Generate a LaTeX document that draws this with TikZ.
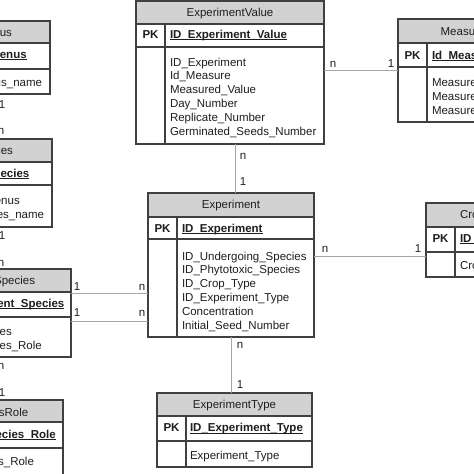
\documentclass[tikz,border=0pt]{standalone}
\usepackage{fontspec}
\setmainfont{Liberation Sans}
\usetikzlibrary{fit}
\definecolor{hdr}{HTML}{D2D2D2}
\definecolor{frm}{HTML}{404040}
\definecolor{cnx}{HTML}{A6A6A6}
\definecolor{txt}{HTML}{1E1E1E}
\newcommand{\keyul}[1]{\setbox0\hbox{#1}\rlap{\rule[-2.2pt]{\wd0}{0.9pt}}\box0}
\tikzset{
  frame/.style={draw=frm, line width=1.2pt},
  lbl/.style={font=\fontsize{11.5}{13.8}\selectfont, text=txt, inner sep=0pt, outer sep=0pt},
  hdrtext/.style={lbl, anchor=base},
  pktext/.style={lbl, font=\fontsize{11.5}{13.8}\selectfont\bfseries, anchor=base},
  keytext/.style={lbl, font=\fontsize{11.5}{13.8}\selectfont\bfseries, anchor=base west},
  attrtext/.style={lbl, anchor=base west},
  card/.style={lbl, anchor=base},
  conn/.style={draw=cnx, line width=0.9pt},
}
% name, left, top, right, header bottom, pk bottom, bottom, divider
\newcommand{\erbox}[8]{%
  \fill[hdr] (#2,#3) rectangle (#4,#5);
  \draw[frame] (#2,#5) -- (#4,#5) (#2,#6) -- (#4,#6) (#8,#5) -- (#8,#7);
  \draw[frame] (#2,#3) rectangle (#4,#7);
  \node[inner sep=0pt, outer sep=0pt, fit={(#2,#3) (#4,#7)}] (#1) {};
}
\begin{document}
\begin{tikzpicture}[x=1pt,y=-1pt]
\useasboundingbox (0,0) rectangle (474,474);
\clip (0,0) rectangle (474,474);

% ExperimentValue
\erbox{ev}{136}{1}{324}{24}{47}{144}{165}
\node[hdrtext] (ev-h) at (230,16) {ExperimentValue};
\node[pktext] (ev-pk) at (150.5,38) {PK};
\node[keytext] (ev-k) at (170,38) {\keyul{ID\_Experiment\_Value}};
\node[attrtext] (ev-a1) at (170,66) {ID\_Experiment};
\node[attrtext] (ev-a2) at (170,79.8) {Id\_Measure};
\node[attrtext] (ev-a3) at (170,93.6) {Measured\_Value};
\node[attrtext] (ev-a4) at (170,107.4) {Day\_Number};
\node[attrtext] (ev-a5) at (170,121.2) {Replicate\_Number};
\node[attrtext] (ev-a6) at (170,135) {Germinated\_Seeds\_Number};

% Measure
\erbox{meas}{398}{19}{528}{43}{67}{122}{427}
\node[hdrtext] (meas-h) at (463,35) {Measure};
\node[pktext] (meas-pk) at (412.5,59) {PK};
\node[keytext] (meas-k) at (432,59) {\keyul{Id\_Measure}};
\node[attrtext] (meas-a1) at (432,86) {Measure\_Name};
\node[attrtext] (meas-a2) at (432,100) {Measure\_Unit};
\node[attrtext] (meas-a3) at (432,114) {Measure\_Description};

% Experiment
\erbox{exp}{148}{193}{314}{217}{239}{337}{177}
\node[hdrtext] (exp-h) at (231,208) {Experiment};
\node[pktext] (exp-pk) at (162.5,232) {PK};
\node[keytext] (exp-k) at (182,232) {\keyul{ID\_Experiment}};
\node[attrtext] (exp-a1) at (182,260) {ID\_Undergoing\_Species};
\node[attrtext] (exp-a2) at (182,273.8) {ID\_Phytotoxic\_Species};
\node[attrtext] (exp-a3) at (182,287.6) {ID\_Crop\_Type};
\node[attrtext] (exp-a4) at (182,301.4) {ID\_Experiment\_Type};
\node[attrtext] (exp-a5) at (182,315.2) {Concentration};
\node[attrtext] (exp-a6) at (182,329) {Initial\_Seed\_Number};

% ExperimentType
\erbox{et}{157}{393}{312}{416}{441}{467}{186}
\node[hdrtext] (et-h) at (234.5,408) {ExperimentType};
\node[pktext] (et-pk) at (171.5,431.5) {PK};
\node[keytext] (et-k) at (190,431.5) {\keyul{ID\_Experiment\_Type}};
\node[attrtext] (et-a1) at (190,459.5) {Experiment\_Type};

% CropType
\erbox{crop}{426}{203}{544}{227}{252}{277}{455}
\node[hdrtext] (crop-h) at (485,218) {CropType};
\node[pktext] (crop-pk) at (440.5,242) {PK};
\node[keytext] (crop-k) at (460,242) {\keyul{ID\_Crop\_Type}};
\node[attrtext] (crop-a1) at (460,269) {Crop\_Type};

% Genus
\erbox{genus}{-60}{21}{50}{43}{69}{94}{-32}
\node[hdrtext] (genus-h) at (-5,36) {Genus};
\node[pktext] (genus-pk) at (-46,58) {PK};
\node[keytext] (genus-k) at (-27,58) {\keyul{ID\_Genus}};
\node[attrtext] (genus-a1) at (-27,86) {Genus\_name};

% Species
\erbox{species}{-67}{139}{52}{162}{185}{227}{-38}
\node[hdrtext] (species-h) at (-7.5,154) {Species};
\node[pktext] (species-pk) at (-52.5,177) {PK};
\node[keytext] (species-k) at (-32,177) {\keyul{ID\_Species}};
\node[attrtext] (species-a1) at (-32,204) {ID\_Genus};
\node[attrtext] (species-a2) at (-32,218) {Species\_name};

% ExperimentSpecies
\erbox{es}{-100}{269}{71}{292}{317}{357}{-71}
\node[hdrtext] (es-h) at (-14.5,284) {ExperimentSpecies};
\node[pktext] (es-pk) at (-85.5,307) {PK};
\node[keytext] (es-k) at (-66,307) {\keyul{ID\_Experiment\_Species}};
\node[attrtext] (es-a1) at (-47,335) {ID\_Species};
\node[attrtext] (es-a2) at (-47,349) {ID\_Species\_Role};

% SpeciesRole
\erbox{sr}{-71}{400}{63}{422}{448}{485}{-42}
\node[hdrtext] (sr-h) at (-4,416) {SpeciesRole};
\node[pktext] (sr-pk) at (-56.5,438) {PK};
\node[keytext] (sr-k) at (-37,438) {\keyul{ID\_Species\_Role}};
\node[attrtext] (sr-a1) at (-37,465) {Species\_Role};

% connectors
\draw[conn] (ev.east |- 0,70) -- (meas.west |- 0,70);
\draw[conn] (ev.south -| 235,0) -- (exp.north -| 235,0);
\draw[conn] (exp.east |- 0,256) -- (crop.west |- 0,256);
\draw[conn] (exp.south -| 231,0) -- (et.north -| 231,0);
\draw[conn] (es.east |- 0,293) -- (exp.west |- 0,293);
\draw[conn] (es.east |- 0,321) -- (exp.west |- 0,321);
\draw[conn] (genus.south -| -8,0) -- (species.north -| -8,0);
\draw[conn] (species.south -| -8,0) -- (es.north -| -8,0);
\draw[conn] (es.south -| -8,0) -- (sr.north -| -8,0);

% cardinalities
\node[card] (c1) at (333,67) {n};
\node[card] (c2) at (391,67) {1};
\node[card] (c3) at (243,159) {n};
\node[card] (c4) at (243,185) {1};
\node[card] (c5) at (325,252) {n};
\node[card] (c6) at (418,252) {1};
\node[card] (c7) at (240,348) {n};
\node[card] (c8) at (240,388) {1};
\node[card] (c9) at (77,290) {1};
\node[card] (c10) at (142,290) {n};
\node[card] (c11) at (77,316) {1};
\node[card] (c12) at (142,316) {n};
\node[card] (c13) at (2,108) {1};
\node[card] (c14) at (1,134) {n};
\node[card] (c15) at (2,239) {1};
\node[card] (c16) at (1,266) {n};
\node[card] (c17) at (1,369) {n};
\node[card] (c18) at (2,396) {1};
\end{tikzpicture}
\end{document}
